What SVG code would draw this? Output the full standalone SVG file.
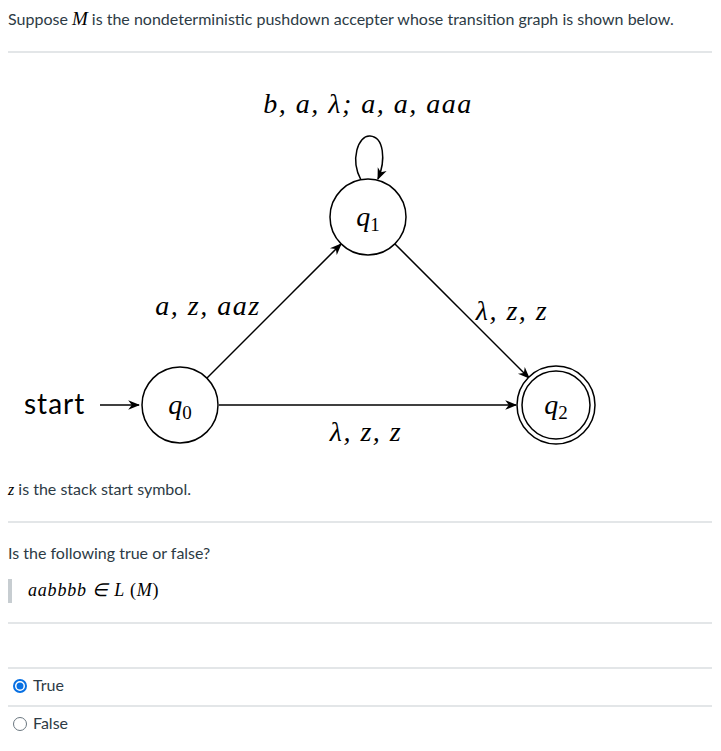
<svg xmlns="http://www.w3.org/2000/svg" width="721" height="751" viewBox="0 0 721 751">
<style>
.t{font-family:Lato,"Liberation Sans",sans-serif;font-size:16px;fill:#2d3b45}
.m{font-family:"Liberation Serif",serif;font-style:italic;fill:#000}
.l{font-size:28px;letter-spacing:1.5px}
.sep{stroke:#c7cdd1;stroke-width:1}
.st{fill:#fff;stroke:#000;stroke-width:1.5}
.e{fill:none;stroke:#000;stroke-width:1.5;marker-end:url(#ar)}
</style>
<defs><marker id="ar" viewBox="0 0 10 10" refX="9" refY="5" markerWidth="8" markerHeight="8" orient="auto"><path d="M0,1 L10,5 L0,9 L3,5 z" fill="#000"/></marker></defs>
<rect width="721" height="751" fill="#fff"/>
<text x="8" y="25" class="t">Suppose <tspan class="m" font-size="19">M</tspan> is the nondeterministic pushdown accepter whose transition graph is shown below.</text>
<line x1="8" y1="52" x2="712" y2="52" class="sep"/>
<g id="connectors">
<line x1="100" y1="405" x2="139" y2="405" class="e"/>
<line x1="207" y1="378" x2="341" y2="244" class="e"/>
<line x1="395" y1="244" x2="529" y2="378" class="e"/>
<line x1="219" y1="405" x2="516" y2="405" class="e"/>
<path d="M361,180 C350,160 358,135 370,136 C384,137 386,160 378,179" class="e"/>
</g>
<text x="368" y="113" class="m l" text-anchor="middle">b, a, λ;  a, a, aaa</text>
<text x="208" y="315" class="m l" text-anchor="middle">a, z, aaz</text>
<text x="512" y="320" class="m l" text-anchor="middle">λ, z, z</text>
<text x="366" y="441" class="m l" text-anchor="middle">λ, z, z</text>
<text x="24" y="414" font-family="Lato,'Liberation Sans',sans-serif" font-size="28" letter-spacing="1" fill="#000">start</text>
<g id="q1"><circle cx="368" cy="217" r="38" class="st"/><text x="368" y="226" class="m" font-size="28" text-anchor="middle">q<tspan font-size="19" dy="5" font-style="normal">1</tspan></text></g>
<g id="q0"><circle cx="180" cy="405" r="38" class="st"/><text x="180" y="414" class="m" font-size="28" text-anchor="middle">q<tspan font-size="19" dy="5" font-style="normal">0</tspan></text></g>
<g id="q2"><circle cx="556" cy="405" r="39" class="st"/><circle cx="556" cy="405" r="34" class="st"/><text x="556" y="414" class="m" font-size="28" text-anchor="middle">q<tspan font-size="19" dy="5" font-style="normal">2</tspan></text></g>
<text x="8" y="495" class="t"><tspan class="m">z</tspan>  is the stack start symbol.</text>
<line x1="8" y1="522" x2="712" y2="522" class="sep"/>
<text x="8" y="559" class="t">Is the following true or false?</text>
<rect x="8" y="579" width="4" height="24" fill="#c7cdd1"/>
<text x="28" y="596" class="m" font-size="18" letter-spacing="0.8">aabbbb ∈ L <tspan font-style="normal">(</tspan>M<tspan font-style="normal">)</tspan></text>
<line x1="8" y1="623" x2="712" y2="623" class="sep"/>
<line x1="8" y1="668" x2="712" y2="668" class="sep"/>
<circle cx="20" cy="686" r="6" fill="#fff" stroke="#0770e3" stroke-width="2"/>
<circle cx="20" cy="686" r="3.5" fill="#0770e3"/>
<text x="33" y="691" class="t" font-size="14">True</text>
<line x1="8" y1="706" x2="712" y2="706" class="sep"/>
<circle cx="20" cy="724" r="6.5" fill="#fff" stroke="#6b7780" stroke-width="1"/>
<text x="33" y="729" class="t" font-size="14">False</text>
</svg>
